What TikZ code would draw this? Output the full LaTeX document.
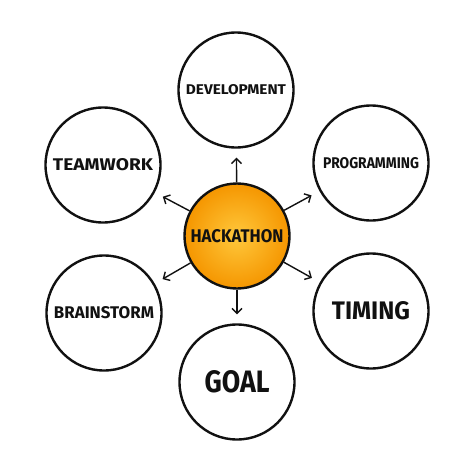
\documentclass[tikz,border=0pt]{standalone}
\usepackage{fontspec}
\setmainfont{Fira Sans}
\usepackage{graphicx}
\usetikzlibrary{arrows.meta}
\newcommand{\lbl}[3]{\resizebox{#1pt}{#2pt}{\bfseries #3}}
\definecolor{inkc}{HTML}{111111}
\definecolor{orin}{RGB}{255,200,60}
\definecolor{orout}{RGB}{245,150,0}
\tikzset{
  bubble/.style={circle, draw=inkc, line width=2.4pt, fill=white, minimum size=115pt, inner sep=0pt, text=inkc},
  hub/.style={circle, draw=inkc, line width=2.4pt, shading=radial, inner color=orin, outer color=orout, minimum size=105pt, inner sep=0pt, text=inkc},
  arr/.style={draw=inkc, line width=1.4pt, -{Straight Barb[length=5pt,width=10pt,line width=1.4pt]}, shorten >=9pt}
}
\begin{document}
\begin{tikzpicture}[x=1pt,y=-1pt]
\useasboundingbox[fill=white] (0,0) rectangle (474,474);
\node[hub] (hack) at (237,236) {\lbl{93}{13}{HACKATHON}};
\node[bubble] (dev) at (236,90) {\lbl{100}{10}{DEVELOPMENT}};
\node[bubble] (team) at (103,165) {\lbl{100}{12}{TEAMWORK}};
\node[bubble] (prog) at (371,163) {\lbl{96}{11}{PROGRAMMING}};
\node[bubble] (brain) at (104,313) {\lbl{100}{12}{BRAINSTORM}};
\node[bubble] (time) at (371,311) {\lbl{78}{18}{TIMING}};
\node[bubble] (goal) at (237,382) {\lbl{65}{22}{GOAL}};
\draw[arr] (hack) -- (dev);
\draw[arr] (hack) -- (team);
\draw[arr] (hack) -- (prog);
\draw[arr] (hack) -- (brain);
\draw[arr] (hack) -- (time);
\draw[arr] (hack) -- (goal);
\end{tikzpicture}
\end{document}
